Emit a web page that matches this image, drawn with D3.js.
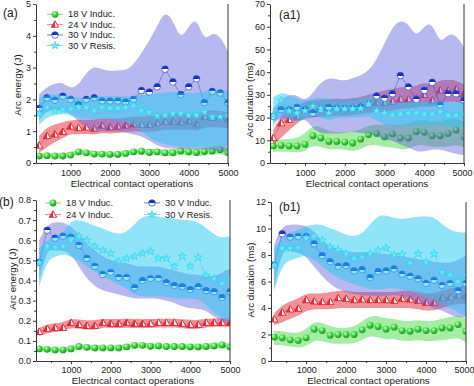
<!DOCTYPE html>
<html><head><meta charset="utf-8">
<script src="https://cdn.jsdelivr.net/npm/d3@7"></script>
<style>
body{margin:0;background:#fff;}
svg{display:block;font-family:"Liberation Sans",Arial,sans-serif;}
</style></head><body>
<svg id="chart" width="474" height="386"></svg>
<script>
// ---------------- DATA ----------------
const operations = [200,400,600,800,1000,1200,1400,1600,1800,2000,2200,2400,2600,2800,3000,3200,3400,3600,3800,4000,4200,4400,4600,4800,5000];
const seriesNames = ['18 V Induc.','24 V Induc.','30 V Induc.','30 V Resis.'];
const xTicks = [1000,2000,3000,4000,5000];
const xMinorTicks = [500,1500,2500,3500,4500];

// (a) arc energy, J
const aYTicks = [0,1,2,3,4,5];
const aYMinor = [0.5,1.5,2.5,3.5,4.5];
const a18 =   [0.22,0.23,0.22,0.22,0.25,0.35,0.32,0.28,0.28,0.27,0.27,0.30,0.35,0.37,0.33,0.35,0.32,0.32,0.38,0.35,0.33,0.36,0.38,0.42,0.33];
const a18Hi = [0.30,0.31,0.30,0.31,0.34,0.44,0.41,0.37,0.36,0.35,0.35,0.39,0.44,0.46,0.43,0.45,0.43,0.44,0.50,0.48,0.46,0.49,0.52,0.55,0.47];
const a18Lo = [0.15,0.16,0.15,0.15,0.17,0.26,0.24,0.20,0.20,0.19,0.19,0.22,0.26,0.28,0.24,0.25,0.22,0.21,0.27,0.24,0.21,0.24,0.26,0.29,0.20];
const a24 =   [0.55,0.85,0.90,0.98,1.15,1.10,1.12,1.08,1.18,1.12,1.15,1.18,1.22,1.20,1.20,1.25,1.30,1.30,1.28,1.32,1.22,1.45,1.42,1.45,1.38];
const a24Hi = [0.85,1.12,1.22,1.28,1.35,1.36,1.36,1.36,1.40,1.38,1.40,1.42,1.46,1.46,1.48,1.50,1.55,1.55,1.54,1.56,1.52,1.64,1.66,1.64,1.58];
const a24Lo = [0.32,0.50,0.66,0.78,0.92,0.90,0.92,0.88,0.95,0.92,0.94,0.98,1.00,0.98,0.98,1.00,1.05,1.05,1.03,1.06,1.00,1.12,1.14,1.12,1.10];
const a30 =   [1.72,2.05,1.97,2.10,2.00,1.83,2.00,2.05,1.95,1.95,1.95,1.92,2.00,2.28,2.23,2.40,2.95,2.55,2.15,2.40,2.65,1.90,2.25,2.20,1.90];
const a30Hi = [2.15,2.40,2.50,2.55,2.32,2.45,2.85,3.05,2.95,2.88,2.92,2.90,3.10,3.45,3.85,4.30,4.80,4.50,3.85,4.30,4.60,3.80,4.12,4.00,3.50];
const a30Lo = [1.35,1.65,1.65,1.65,1.55,1.30,1.10,1.00,1.00,1.00,1.00,0.95,0.90,0.85,0.70,0.55,0.47,0.45,0.45,0.45,0.45,0.42,0.40,0.38,0.35];
const a30R =  [1.55,1.75,1.65,1.68,1.70,1.75,1.75,1.65,1.75,1.72,1.72,1.75,1.80,1.65,1.60,1.48,1.50,1.55,1.55,1.50,1.50,1.60,1.45,1.45,1.50];
const a30RHi =[2.05,2.15,2.15,2.15,2.10,2.05,2.05,2.10,2.10,2.10,2.10,2.10,2.10,2.15,2.15,2.20,2.20,2.25,2.20,2.20,2.20,2.25,2.30,2.30,2.25];
const a30RLo =[1.20,1.45,1.50,1.55,1.50,1.40,1.40,1.38,1.38,1.38,1.35,1.30,1.20,1.00,0.80,0.65,0.60,0.55,0.52,0.50,0.50,0.50,0.50,0.50,0.52];

// (a1) arc duration, ms
const a1YTicks = [0,10,20,30,40,50,60,70];
const a1YMinor = [5,15,25,35,45,55,65];
const a1_18 =   [7.5,7.8,7.5,7.5,8.2,12.0,11.0,9.5,9.5,9.2,8.8,10.5,12.5,13.0,11.5,12.8,11.0,11.0,13.8,13.5,12.0,12.0,13.0,14.5,11.5];
const a1_18Hi = [10.5,10.5,10.5,11.0,13.0,16.5,16.0,14.0,13.5,13.5,13.5,15.0,16.5,17.0,17.0,17.0,16.5,17.0,19.0,19.0,18.0,18.5,19.0,20.0,18.0];
const a1_18Lo = [5.0,5.0,5.0,4.5,5.0,8.0,7.0,6.0,6.0,6.0,5.0,6.0,8.0,8.0,7.0,7.0,6.0,6.0,8.0,8.0,7.0,7.0,7.0,8.0,7.0];
const a1_24 =   [11.0,17.5,19.0,20.5,23.5,23.0,24.0,24.0,24.5,24.0,24.5,25.0,25.5,26.5,26.5,27.0,28.0,28.0,28.5,30.0,27.5,32.0,32.0,32.5,30.5];
const a1_24Hi = [14.5,21.0,23.5,25.5,27.0,27.5,28.0,28.0,28.5,28.0,28.5,29.0,30.0,31.0,32.0,32.5,33.5,33.5,34.0,35.5,34.5,36.5,36.5,36.5,34.5];
const a1_24Lo = [8.0,11.0,14.5,17.5,20.0,20.0,20.5,20.5,21.0,20.5,21.0,21.5,22.0,22.5,22.5,23.0,24.0,24.0,24.5,25.0,24.5,26.5,27.0,27.0,26.0];
const a1_30 =   [20.5,23.5,23.5,24.5,23.5,22.0,23.5,24.5,24.0,24.0,24.0,24.5,26.0,29.5,28.5,30.5,38.5,33.5,28.0,32.0,35.5,25.5,30.5,30.5,27.5];
const a1_30Hi = [24.0,28.0,30.0,30.0,27.0,31.0,35.5,37.5,37.0,36.0,37.5,38.5,40.5,45.5,52.5,60.0,63.0,61.5,55.0,60.5,62.0,52.0,57.0,56.5,51.0];
const a1_30Lo = [18.0,20.0,19.0,18.0,20.0,15.0,13.0,13.0,13.0,13.0,14.0,13.0,13.0,12.0,10.0,10.0,8.0,7.0,5.0,5.0,6.0,6.0,5.0,4.0,3.5];
const a1_30R =  [21.0,27.5,23.0,22.0,23.0,25.0,24.0,22.0,24.0,24.0,24.0,24.0,26.0,23.0,22.0,21.0,21.5,22.0,22.0,21.5,21.5,22.5,21.0,21.0,21.5];
const a1_30RHi =[29.0,31.0,30.0,28.0,27.5,28.5,29.0,28.0,28.0,28.0,28.0,28.5,29.5,28.5,27.5,26.5,26.5,27.0,27.0,27.0,27.0,27.5,27.0,26.5,27.0];
const a1_30RLo =[16.0,21.5,19.5,18.5,19.0,21.0,20.0,18.5,20.0,20.0,20.0,20.0,21.0,18.5,17.0,16.0,16.0,16.5,16.5,16.5,16.5,17.0,16.0,16.0,16.0];

// (b) arc energy, J
const bYTicks = [0,0.1,0.2,0.3,0.4,0.5,0.6,0.7,0.8];
const bYMinor = [0.05,0.15,0.25,0.35,0.45,0.55,0.65,0.75];
const b18 =   [0.060,0.058,0.055,0.055,0.060,0.072,0.068,0.065,0.065,0.065,0.065,0.070,0.078,0.078,0.073,0.075,0.072,0.072,0.072,0.070,0.070,0.072,0.075,0.080,0.070];
const b18Hi = [0.072,0.070,0.067,0.067,0.073,0.085,0.081,0.077,0.077,0.077,0.078,0.083,0.091,0.091,0.086,0.088,0.085,0.085,0.085,0.083,0.083,0.086,0.089,0.094,0.084];
const b18Lo = [0.048,0.046,0.043,0.043,0.047,0.059,0.055,0.053,0.053,0.053,0.052,0.057,0.065,0.065,0.060,0.062,0.059,0.059,0.059,0.057,0.057,0.058,0.061,0.066,0.056];
const b24 =   [0.145,0.160,0.165,0.165,0.190,0.180,0.175,0.175,0.190,0.185,0.185,0.190,0.185,0.185,0.185,0.190,0.190,0.190,0.185,0.180,0.180,0.190,0.190,0.190,0.190];
const b24Hi = [0.165,0.182,0.188,0.192,0.210,0.206,0.202,0.202,0.210,0.208,0.208,0.210,0.208,0.208,0.208,0.210,0.210,0.210,0.207,0.204,0.204,0.210,0.212,0.212,0.212];
const b24Lo = [0.125,0.138,0.145,0.148,0.165,0.160,0.155,0.155,0.167,0.163,0.163,0.167,0.163,0.163,0.163,0.167,0.167,0.167,0.163,0.158,0.158,0.168,0.170,0.170,0.170];
const b30 =   [0.490,0.650,0.610,0.620,0.615,0.575,0.510,0.470,0.430,0.440,0.415,0.415,0.365,0.400,0.410,0.410,0.390,0.375,0.370,0.355,0.370,0.350,0.345,0.315,0.345];
const b30Hi = [0.600,0.680,0.690,0.690,0.670,0.630,0.580,0.550,0.520,0.500,0.490,0.490,0.470,0.470,0.470,0.470,0.460,0.450,0.440,0.430,0.430,0.420,0.420,0.440,0.460];
const b30Lo = [0.400,0.560,0.550,0.550,0.530,0.470,0.410,0.370,0.350,0.340,0.330,0.320,0.310,0.310,0.310,0.310,0.300,0.290,0.270,0.260,0.260,0.250,0.220,0.200,0.190];
const b30R =  [0.490,0.570,0.565,0.570,0.600,0.620,0.600,0.570,0.550,0.535,0.495,0.510,0.520,0.535,0.545,0.510,0.510,0.470,0.520,0.470,0.515,0.425,0.410,0.385,0.410];
const b30RHi =[0.560,0.600,0.620,0.630,0.700,0.700,0.690,0.670,0.660,0.640,0.630,0.640,0.680,0.720,0.720,0.720,0.710,0.710,0.700,0.700,0.690,0.660,0.630,0.610,0.620];
const b30RLo =[0.370,0.500,0.520,0.530,0.520,0.500,0.470,0.440,0.420,0.400,0.380,0.360,0.330,0.320,0.320,0.320,0.320,0.310,0.310,0.310,0.310,0.280,0.240,0.210,0.200];

// (b1) arc duration, ms
const b1YTicks = [0,2,4,6,8,10,12];
const b1YMinor = [1,3,5,7,9,11];
const b1_18 =   [1.80,1.75,1.60,1.55,1.75,2.40,2.30,1.95,2.00,2.00,2.00,2.35,2.70,2.60,2.40,2.55,2.30,2.25,2.40,2.30,2.30,2.50,2.50,2.75,2.25];
const b1_18Hi = [2.30,2.25,2.15,2.10,2.40,3.00,2.90,2.60,2.50,2.50,2.60,3.00,3.40,3.40,3.20,3.20,3.00,3.00,3.10,3.00,3.00,3.20,3.30,3.50,3.20];
const b1_18Lo = [1.20,1.20,1.10,1.00,1.10,1.60,1.50,1.30,1.30,1.30,1.30,1.60,1.90,1.80,1.60,1.70,1.50,1.50,1.60,1.50,1.50,1.60,1.60,1.80,1.40];
const b1_24 =   [3.15,3.65,3.90,3.95,4.60,4.50,4.45,4.45,4.75,4.70,4.60,4.65,4.60,4.60,4.60,4.55,4.70,4.65,4.55,4.40,4.40,4.75,4.80,4.95,4.90];
const b1_24Hi = [3.60,4.20,4.50,4.70,5.10,5.10,5.10,5.20,5.30,5.30,5.20,5.20,5.20,5.20,5.20,5.20,5.30,5.30,5.20,5.10,5.10,5.30,5.50,5.60,5.60];
const b1_24Lo = [2.70,2.90,3.20,3.40,3.80,3.90,3.90,3.90,4.00,4.00,4.00,4.00,4.00,4.00,4.00,4.00,4.00,4.00,3.90,3.80,3.80,4.00,4.20,4.30,4.30];
const b1_30 =   [7.25,9.60,9.35,9.40,9.40,8.85,7.95,7.50,7.15,7.20,6.80,6.90,6.30,6.75,6.80,6.95,6.55,6.40,6.20,5.85,6.10,5.70,5.85,5.30,5.85];
const b1_30Hi = [8.80,10.20,10.30,10.30,10.20,9.80,9.00,8.70,8.40,8.30,8.20,8.20,8.20,8.10,8.10,8.00,7.90,7.80,7.70,7.60,7.50,7.40,7.40,7.60,8.00];
const b1_30Lo = [5.50,8.50,8.30,8.20,7.90,7.10,6.40,5.80,5.40,5.20,5.00,5.00,4.90,4.90,4.90,5.00,4.90,4.70,4.40,4.20,4.00,3.80,3.50,3.30,3.30];
const b1_30R =  [7.25,8.50,8.50,8.55,9.25,9.40,9.10,8.60,8.40,8.10,7.75,7.85,8.10,8.35,8.50,8.00,8.05,7.40,8.10,7.45,8.10,6.70,6.50,6.00,6.50];
const b1_30RHi =[8.50,9.30,9.60,9.90,10.20,10.30,10.30,10.00,9.80,9.50,9.40,9.60,10.30,11.00,11.00,10.80,10.70,10.80,10.90,10.90,10.90,10.30,9.90,9.70,9.70];
const b1_30RLo =[5.30,7.30,7.60,7.80,8.00,7.60,7.20,6.60,6.30,6.00,5.80,5.60,5.40,5.40,5.50,5.50,5.40,5.30,5.10,4.80,4.60,4.30,4.00,3.70,3.40];

// ---------------- STYLE / LAYOUT ----------------
const styles = [
  {band:'rgba(40,210,40,0.42)',  line:'#55cc55', marker:'sphere'},
  {band:'rgba(225,25,40,0.48)',  line:'#e04a5a', marker:'tri'},
  {band:'rgba(97,97,222,0.45)',  line:'#3848c8', marker:'half'},
  {band:'rgba(33,201,241,0.50)', line:'#33d0ea', marker:'star'}
];

const panels = [
  {label:'(a)', lx:3, ly:17, l:36, r:228, t:4, b:163, pad:4, yTicks:aYTicks, yMinor:aYMinor, fmt:d3.format('d'),
   yTitle:'Arc energy (J)', ytx:17, yty:85, xtY:187,
   series:[[a18,a18Hi,a18Lo],[a24,a24Hi,a24Lo],[a30,a30Hi,a30Lo],[a30R,a30RHi,a30RLo]],
   legend:[{x:55,y:14.3,i:0},{x:55,y:24.6,i:1},{x:55,y:35,i:2},{x:55,y:45.5,i:3}]},
  {label:'(a1)', lx:279, ly:19, l:270, r:464, t:4, b:163, pad:4, yTicks:a1YTicks, yMinor:a1YMinor, fmt:d3.format('d'),
   yTitle:'Arc duration (ms)', ytx:249, yty:100, xtY:187,
   series:[[a1_18,a1_18Hi,a1_18Lo],[a1_24,a1_24Hi,a1_24Lo],[a1_30,a1_30Hi,a1_30Lo],[a1_30R,a1_30RHi,a1_30RLo]],
   legend:[]},
  {label:'(b)', lx:-1, ly:206, l:36, r:230, t:200, b:361, pad:3, yTicks:bYTicks, yMinor:bYMinor, fmt:d3.format('.1f'),
   yTitle:'Arc energy (J)', ytx:12, yty:279, xtY:384,
   series:[[b18,b18Hi,b18Lo],[b24,b24Hi,b24Lo],[b30,b30Hi,b30Lo],[b30R,b30RHi,b30RLo]],
   legend:[{x:53,y:203,i:0},{x:53,y:214.6,i:1},{x:152,y:203,i:2},{x:152,y:214.6,i:3}]},
  {label:'(b1)', lx:279, ly:211, l:271, r:466, t:202, b:361, pad:3, yTicks:b1YTicks, yMinor:b1YMinor, fmt:d3.format('d'),
   yTitle:'Arc duration (ms)', ytx:250, yty:280, xtY:384,
   series:[[b1_18,b1_18Hi,b1_18Lo],[b1_24,b1_24Hi,b1_24Lo],[b1_30,b1_30Hi,b1_30Lo],[b1_30R,b1_30RHi,b1_30RLo]],
   legend:[]}
];

// ---------------- DRAW ----------------
const svg = d3.select('#chart');
const defs = svg.append('defs');
const rg = defs.append('radialGradient').attr('id','gSphere').attr('cx','38%').attr('cy','32%').attr('r','70%');
rg.append('stop').attr('offset','0%').attr('stop-color','#d0ffc8');
rg.append('stop').attr('offset','40%').attr('stop-color','#4ddf4d');
rg.append('stop').attr('offset','100%').attr('stop-color','#129412');
const bgr = defs.append('linearGradient').attr('id','bHalf').attr('x1',0).attr('y1',0).attr('x2',0).attr('y2',1);
bgr.append('stop').attr('offset','50%').attr('stop-color','#1634c8');
bgr.append('stop').attr('offset','50%').attr('stop-color','#ffffff');
const tgr = defs.append('linearGradient').attr('id','rHalf').attr('x1',0).attr('y1',0).attr('x2',1).attr('y2',0);
tgr.append('stop').attr('offset','50%').attr('stop-color','#e8303c');
tgr.append('stop').attr('offset','50%').attr('stop-color','#ffffff');

const triPath = d3.symbol(d3.symbolTriangle, 24)();
const starPath = d3.symbol(d3.symbolStar, 21)();

function drawMarker(g, kind, x, y){
  if(kind==='sphere'){
    g.append('circle').attr('cx',x).attr('cy',y).attr('r',3.4).attr('fill','url(#gSphere)');
  } else if(kind==='tri'){
    g.append('path').attr('d',triPath).attr('transform',`translate(${x},${y+0.5})`)
      .attr('fill','url(#rHalf)').attr('stroke','#e0202c').attr('stroke-width',0.9);
  } else if(kind==='half'){
    g.append('circle').attr('cx',x).attr('cy',y).attr('r',3.3)
      .attr('fill','url(#bHalf)').attr('stroke','#2a44c8').attr('stroke-width',0.7);
  } else {
    g.append('path').attr('d',starPath).attr('transform',`translate(${x},${y})`)
      .attr('fill','#66eafa').attr('stroke','#25c9e6').attr('stroke-width',0.5);
  }
}

panels.forEach(p=>{
  const x = d3.scaleLinear().domain([120,5000]).range([p.l,p.r]);
  const y = d3.scaleLinear().domain([0,p.yTicks[p.yTicks.length-1]]).range([p.b,p.t]);
  const g = svg.append('g');
  const clipId = 'clip'+p.label.replace(/\W/g,'');
  defs.append('clipPath').attr('id',clipId).append('rect')
    .attr('x',p.l).attr('y',p.t-1).attr('width',p.r-p.l).attr('height',p.b-p.t+1);
  const plot = g.append('g').attr('clip-path',`url(#${clipId})`);

  p.series.forEach((s,si)=>{
    const [mean,hi,lo] = s;
    const st = styles[si];
    const area = d3.area().curve(d3.curveBasis)
      .x((d,i)=>x(operations[i])).y0((d,i)=>y(lo[i])).y1((d,i)=>y(hi[i]));
    plot.append('path').attr('d',area(mean)).attr('fill',st.band);
    const line = d3.line().x((d,i)=>x(operations[i])).y(d=>y(d));
    plot.append('path').attr('d',line(mean)).attr('fill','none')
      .attr('stroke',st.line).attr('stroke-width',0.6).attr('opacity',0.85);
    const mg = plot.append('g');
    mean.forEach((v,i)=>drawMarker(mg, st.marker, x(operations[i]), y(v)));
  });

  // axes
  const yAx = d3.axisLeft(y).tickValues(p.yTicks).tickFormat(p.fmt).tickSize(3).tickSizeOuter(0).tickPadding(2);
  g.append('g').attr('transform',`translate(${p.l},0)`).call(yAx);
  const yMin = d3.axisLeft(y).tickValues(p.yMinor).tickFormat('').tickSize(2).tickSizeOuter(0);
  g.append('g').attr('transform',`translate(${p.l},0)`).call(yMin).select('.domain').remove();
  const xAx = d3.axisBottom(x).tickValues(xTicks).tickFormat(d3.format('d')).tickSize(3).tickSizeOuter(0).tickPadding(p.pad);
  const xAg = g.append('g').attr('transform',`translate(0,${p.b})`).call(xAx);
  const xMin = d3.axisBottom(x).tickValues(xMinorTicks).tickFormat('').tickSize(2).tickSizeOuter(0);
  g.append('g').attr('transform',`translate(0,${p.b})`).call(xMin).select('.domain').remove();
  g.selectAll('.tick text').attr('font-size',9).attr('fill','#222').attr('font-family','"Liberation Sans",Arial,sans-serif');
  g.selectAll('.domain, .tick line').attr('stroke','#222').attr('stroke-width',0.9);
  // keep the last x label inside the window
  xAg.selectAll('.tick text').filter(d=>d===5000 && p.r>460).attr('dx',-2);
  g.append('line').attr('x1',p.r).attr('x2',p.r).attr('y1',p.t).attr('y2',p.b)
    .attr('stroke','#222').attr('stroke-width',0.9);

  // titles
  g.append('text').attr('x',(p.l+p.r)/2).attr('y',p.xtY).attr('text-anchor','middle')
    .attr('font-size',9.8).attr('fill','#222').text('Electrical contact operations');
  g.append('text').attr('transform',`translate(${p.ytx},${p.yty}) rotate(-90)`)
    .attr('text-anchor','middle').attr('dominant-baseline','central')
    .attr('font-size',9.8).attr('fill','#222').text(p.yTitle);
  g.append('text').attr('x',p.lx).attr('y',p.ly).attr('font-size',12).attr('fill','#222').text(p.label);

  // legend
  p.legend.forEach(it=>{
    const st = styles[it.i];
    g.append('line').attr('x1',it.x-8).attr('x2',it.x+8).attr('y1',it.y).attr('y2',it.y)
      .attr('stroke',st.line).attr('stroke-width',0.7);
    drawMarker(g, st.marker, it.x, it.y);
    g.append('text').attr('x',it.x+13).attr('y',it.y).attr('dominant-baseline','central')
      .attr('font-size',9.3).attr('fill','#222').text(seriesNames[it.i]);
  });
});
</script></body></html>
